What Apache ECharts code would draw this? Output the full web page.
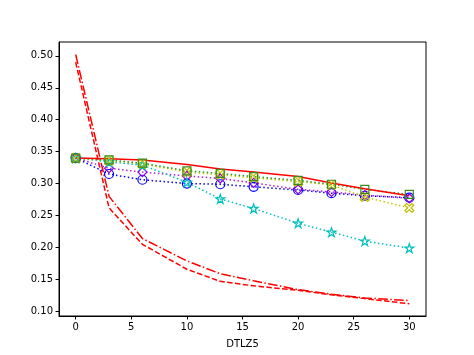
<!DOCTYPE html>
<html>
<head>
<meta charset="utf-8">
<script src="https://cdn.jsdelivr.net/npm/echarts@6/dist/echarts.min.js"></script>
<style>html,body{margin:0;padding:0;background:#fff}#c{width:474px;height:355px}</style>
</head>
<body>
<div id="c"></div>
<script>
const xValues = [0, 3, 6, 10, 13, 16, 20, 23, 26, 30];
const redSolid   = [0.340, 0.339, 0.337, 0.330, 0.323, 0.318, 0.311, 0.301, 0.292, 0.281];
const redDashDot = [0.502, 0.280, 0.214, 0.179, 0.159, 0.148, 0.134, 0.127, 0.121, 0.117];
const redDashed  = [0.490, 0.262, 0.205, 0.166, 0.147, 0.140, 0.133, 0.126, 0.120, 0.112];
const blueCircle = [0.340, 0.315, 0.306, 0.300, 0.299, 0.295, 0.290, 0.285, 0.281, 0.278];
const purpleDiamond = [0.340, 0.324, 0.318, 0.312, 0.308, 0.301, 0.291, 0.287, 0.282, 0.277];
const cyanStar   = [0.340, 0.334, 0.329, 0.302, 0.276, 0.261, 0.238, 0.224, 0.210, 0.199];
const greenSquare = [0.340, 0.337, 0.332, 0.320, 0.316, 0.311, 0.305, 0.299, 0.291, 0.283];
const yellowX    = [0.340, 0.336, 0.331, 0.318, 0.314, 0.309, 0.303, 0.298, 0.279, 0.262];
const xTicks = [0, 5, 10, 15, 20, 25, 30];
const yTicks = [0.10, 0.15, 0.20, 0.25, 0.30, 0.35, 0.40, 0.45, 0.50];
const xName = 'DTLZ5';

const pair = arr => xValues.map((x, i) => [x, arr[i]]);
const DOT = [1.5, 2.5], DASH = [5.5, 2.4], DASHDOT = [9.6, 2.4, 1.5, 2.4];
const STAR = 'path://M5,0 L6.2,3.6 L10,3.6 L6.9,5.8 L8.1,9.5 L5,7.2 L1.9,9.5 L3.1,5.8 L0,3.6 L3.8,3.6 Z';
const XSYM = 'path://M2,0 L5,3 L8,0 L10,2 L7,5 L10,8 L8,10 L5,7 L2,10 L0,8 L3,5 L0,2 Z';

function mk(data, color, dash, symbol, size, mColor) {
  return {
    type: 'line', data: pair(data), animation: false,
    symbol: symbol || 'none', symbolSize: size || 0, showSymbol: !!symbol,
    lineStyle: { color: color, width: 1.5, type: dash },
    itemStyle: { color: 'rgba(0,0,0,0)', borderColor: mColor || color, borderWidth: 1.2 },
    emphasis: { disabled: true }
  };
}

const chart = echarts.init(document.getElementById('c'));
chart.setOption({
  backgroundColor: '#fff',
  grid: { left: 59, right: 48, top: 42, bottom: 39, show: true, borderColor: '#000', borderWidth: 1 },
  xAxis: {
    type: 'value', min: -1.5, max: 31.5,
    name: xName, nameLocation: 'middle', nameGap: 23,
    nameTextStyle: { fontFamily: 'DejaVu Sans', fontSize: 10, color: '#000' },
    splitLine: { show: false },
    axisLine: { show: true, onZero: false, lineStyle: { color: '#000' } },
    axisTick: { show: true, length: 3.5, customValues: xTicks, lineStyle: { color: '#000' } },
    axisLabel: { customValues: xTicks, fontFamily: 'DejaVu Sans', fontSize: 10, color: '#000', margin: 6 }
  },
  yAxis: {
    type: 'value', min: 0.0928, max: 0.5216,
    splitLine: { show: false },
    axisLine: { show: true, onZero: false, lineStyle: { color: '#000' } },
    axisTick: { show: true, length: 3.5, customValues: yTicks, lineStyle: { color: '#000' } },
    axisLabel: { customValues: yTicks, fontFamily: 'DejaVu Sans', fontSize: 10, color: '#000', margin: 6,
      formatter: v => v.toFixed(2) }
  },
  series: [
    mk(redDashDot, '#ff0000', DASHDOT),
    mk(redDashed, '#ff0000', DASH),
    mk(blueCircle, '#0000ff', DOT, 'circle', 9),
    mk(purpleDiamond, '#b020d0', DOT, 'diamond', 9, '#8a00e0'),
    mk(cyanStar, '#00bfbf', DOT, STAR, 9),
    mk(yellowX, '#c8c800', DOT, XSYM, 9, '#bfbf00'),
    mk(greenSquare, '#2e9a2e', DOT, 'rect', 8, '#3a8a20'),
    mk(redSolid, '#ff0000', 'solid')
  ]
});
</script>
</body>
</html>
